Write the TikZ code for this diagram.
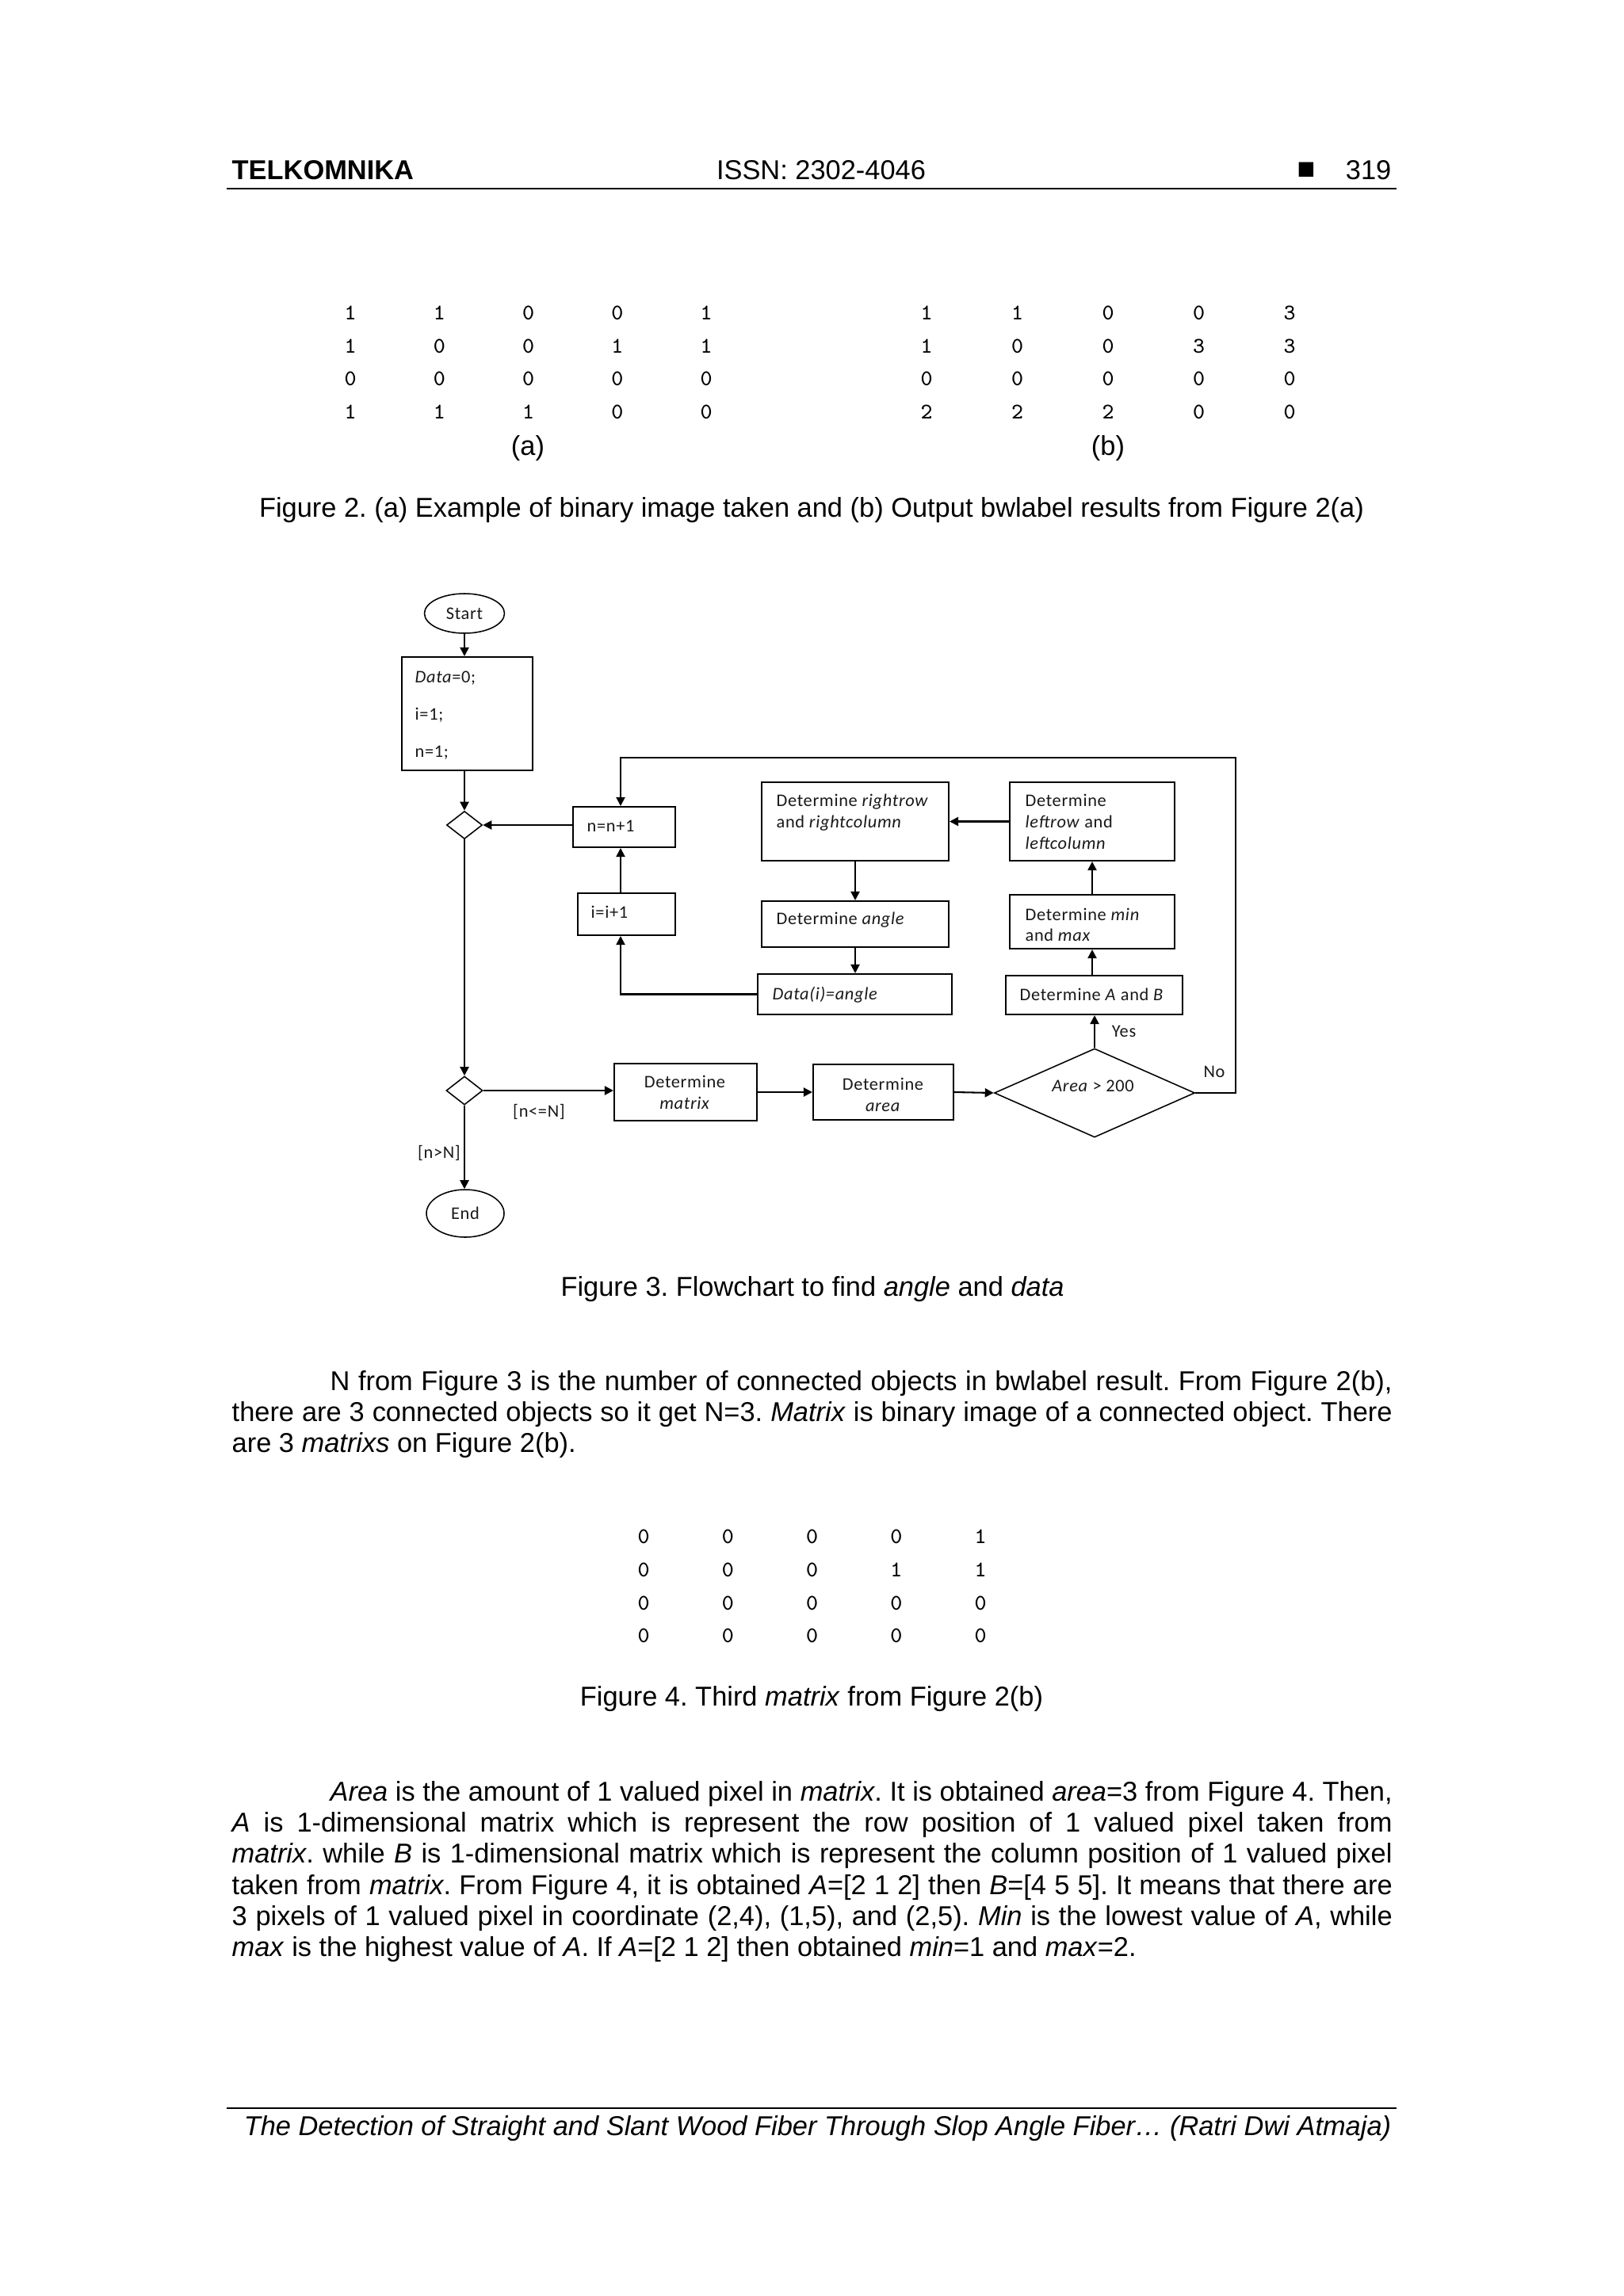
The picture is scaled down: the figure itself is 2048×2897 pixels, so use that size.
\documentclass[tikz,border=0pt]{standalone}
\usepackage{fontspec}
\setmainfont{Liberation Sans}
\newfontfamily\fcf[LetterSpace=3]{Carlito}
\newfontfamily\symf{DejaVu Sans}
\usetikzlibrary{fit,shapes.geometric,arrows.meta}
\newdimen\pxu \pxu=0.29067pt
\newcommand\mydigrow[6]{\foreach \v [count=\c] in {#6} {\node[dig] (#1-#2-\c) at ({#3+#4*(\c-1)},#5) {\v};}}
\frenchspacing
\begin{document}
\begin{tikzpicture}[x=0.29067pt,y=-0.29067pt,
  body/.style={font=\fontsize{10}{11.5}\selectfont, inner sep=0},
  fc/.style={font=\fcf\fontsize{6.5}{7.9}\selectfont, inner sep=0, text=black!90},
  dig/.style={font=\ttfamily\fontsize{8.2}{9}\selectfont, inner sep=0},
  box/.style={draw, line width=0.6pt, inner sep=0},
  dbox/.style={draw, diamond, line width=0.45pt, inner sep=0},
  arr/.style={line width=0.6pt, -{Triangle[length=3.2pt,width=3.2pt]}},
  rule/.style={line width=0.8pt}]
\fill[white] (0,0) rectangle (2048,2897);
\useasboundingbox (0,0) rectangle (2048,2897);

% header
\node[body, font=\bfseries\fontsize{10}{11.5}\selectfont, anchor=base west] (hleft) at (292,226) {TELKOMNIKA};
\node[body, anchor=base] (hmid) at (1036,226) {ISSN: 2302-4046};
\node[inner sep=0, font=\symf\fontsize{7}{8}\selectfont] (hsq) at (1648,214) {■};
\node[body, anchor=base east] (hpage) at (1756,226) {319};
\draw[rule] (286,238) -- (1762,238);

% Figure 2 matrices
\mydigrow{a}{1}{442}{112.25}{395}{1,1,0,0,1}
\mydigrow{a}{2}{442}{112.25}{437}{1,0,0,1,1}
\mydigrow{a}{3}{442}{112.25}{478}{0,0,0,0,0}
\mydigrow{a}{4}{442}{112.25}{520}{1,1,1,0,0}
\mydigrow{b}{1}{1169}{114.5}{395}{1,1,0,0,3}
\mydigrow{b}{2}{1169}{114.5}{437}{1,0,0,3,3}
\mydigrow{b}{3}{1169}{114.5}{478}{0,0,0,0,0}
\mydigrow{b}{4}{1169}{114.5}{520}{2,2,2,0,0}
\node[body, anchor=base] (laba) at (666,574) {(a)};
\node[body, anchor=base] (labb) at (1398,574) {(b)};
\node[body, anchor=base] (cap2) at (1024,652) {Figure 2. (a) Example of binary image taken and (b) Output bwlabel results from Figure 2(a)};

% Flowchart
\node[ellipse, draw, line width=0.45pt, minimum width=101\pxu, minimum height=50\pxu, inner sep=0, fc] (start) at (586,774) {Start};
\node[box, fit={(507,829) (672,972)}] (init) {};
\node[dbox, minimum width=45\pxu, minimum height=35\pxu] (d1) at (586,1041) {};
\node[box, fit={(723,1018) (852,1069)}] (nn) {};
\node[box, fit={(729,1127) (852,1180)}] (ii) {};
\node[box, fit={(961,987) (1197,1086)}] (rr) {};
\node[box, fit={(961,1137) (1197,1195)}] (ang) {};
\node[box, fit={(956,1229) (1201,1280)}] (data) {};
\node[box, fit={(1274,987) (1482,1086)}] (lr) {};
\node[box, fit={(1274,1129) (1482,1197)}] (mm) {};
\node[box, fit={(1269,1231) (1492,1280)}] (ab) {};
\node[dbox, minimum width=46\pxu, minimum height=36\pxu] (d2) at (586,1376) {};
\node[box, fit={(775,1342) (955,1414)}] (mat) {};
\node[box, fit={(1026,1343) (1203,1413)}] (area) {};
\node[dbox, minimum width=253\pxu, minimum height=112\pxu] (dia) at (1381,1379) {};
\node[ellipse, draw, line width=0.45pt, minimum width=98\pxu, minimum height=60\pxu, inner sep=0, fc] (end) at (587,1531) {End};

% box texts
\node[fc, anchor=mid west] (ti1) at (523,852) {\textit{Data}=0;};
\node[fc, anchor=mid west] (ti2) at (523,899) {i=1;};
\node[fc, anchor=mid west] (ti3) at (523,946) {n=1;};
\node[fc, anchor=mid west] (tnn) at (740,1040) {n=n+1};
\node[fc, anchor=mid west] (tii) at (745,1149) {i=i+1};
\node[fc, anchor=mid west] (trr1) at (979,1008) {Determine \textit{rightrow}};
\node[fc, anchor=mid west] (trr2) at (979,1035) {and \textit{rightcolumn}};
\node[fc, anchor=mid west] (tang) at (979,1157) {Determine \textit{angle}};
\node[fc, anchor=mid west] (tdata) at (974,1252) {\textit{Data(i)=angle}};
\node[fc, anchor=mid west] (tlr1) at (1293,1008) {Determine};
\node[fc, anchor=mid west] (tlr2) at (1293,1035) {\textit{leftrow} and};
\node[fc, anchor=mid west] (tlr3) at (1293,1062) {\textit{leftcolumn}};
\node[fc, anchor=mid west] (tmm1) at (1293,1152) {Determine \textit{min}};
\node[fc, anchor=mid west] (tmm2) at (1293,1178) {and \textit{max}};
\node[fc, anchor=mid west] (tab) at (1286,1253) {Determine \textit{A} and \textit{B}};
\node[fc, anchor=mid] (tmat1) at (864,1363) {Determine};
\node[fc, anchor=mid] (tmat2) at (864,1390) {\textit{matrix}};
\node[fc, anchor=mid] (tar1) at (1114,1366) {Determine};
\node[fc, anchor=mid] (tar2) at (1114,1393) {\textit{area}};
\node[fc, anchor=mid] (tdia) at (1379,1368) {\textit{Area} > 200};
\node[fc, anchor=mid] (tyes) at (1418,1299) {Yes};
\node[fc, anchor=mid] (tno) at (1532,1350) {No};
\node[fc, anchor=mid] (tle) at (680,1400) {[n<=N]};
\node[fc, anchor=mid] (tgt) at (554,1452) {[n>N]};

% connectors
\coordinate (colx) at (783,0);
\coordinate (loopR) at (1559,956);
\draw[arr] (start.south) -- (start.south |- init.north);
\draw[arr] (d1.north |- init.south) -- (d1.north);
\draw[arr] (nn.west |- d1.east) -- (d1.east);
\draw[arr] (d1.south) -- (d2.north);
\draw[arr] (ii.north -| colx) -- (nn.south -| colx);
\draw[arr] (data.west) -| (ii.south -| colx);
\draw[arr] (rr.south) -- (ang.north);
\draw[arr] (ang.south) -- (ang.south |- data.north);
\draw[arr] (lr.west) -- (rr.east);
\draw[arr] (mm.north) -- (lr.south);
\draw[arr] (mm.south |- ab.north) -- (mm.south);
\draw[arr] (dia.north) -- (dia.north |- ab.south);
\draw[arr] (dia.east) -| (loopR) -| (nn.north -| colx);
\draw[arr] (d2.east) -- (d2.east -| mat.west);
\draw[arr] (mat.east) -- (mat.east -| area.west);
\draw[arr] (area.east) -- (dia.west);
\draw[arr] (d2.south) -- (d2.south |- end.north);

\node[body, anchor=base] (cap3) at (1025,1635) {Figure 3. Flowchart to find \textit{angle} and \textit{data}};

% paragraph 1
\node[body, anchor=base west] (p11) at (416,1754) {\makebox[1340\pxu][s]{N from Figure 3 is the number of connected objects in bwlabel result. From Figure 2(b),}};
\node[body, anchor=base west] (p12) at (292,1793) {\makebox[1464\pxu][s]{there are 3 connected objects so it get N=3. \textit{Matrix} is binary image of a connected object. There}};
\node[body, anchor=base west] (p13) at (292,1832) {are 3 \textit{matrixs} on Figure 2(b).};

% Figure 4
\mydigrow{c}{1}{812}{106.25}{1939}{0,0,0,0,1}
\mydigrow{c}{2}{812}{106.25}{1981}{0,0,0,1,1}
\mydigrow{c}{3}{812}{106.25}{2023}{0,0,0,0,0}
\mydigrow{c}{4}{812}{106.25}{2064}{0,0,0,0,0}
\node[body, anchor=base] (cap4) at (1024,2152) {Figure 4. Third \textit{matrix} from Figure 2(b)};

% paragraph 2
\node[body, anchor=base west] (p21) at (416,2272) {\makebox[1340\pxu][s]{\textit{Area} is the amount of 1 valued pixel in \textit{matrix}. It is obtained \textit{area}=3 from Figure 4. Then,}};
\node[body, anchor=base west] (p22) at (292,2311) {\makebox[1464\pxu][s]{\textit{A} is 1-dimensional matrix which is represent the row position of 1 valued pixel taken from}};
\node[body, anchor=base west] (p23) at (292,2350) {\makebox[1464\pxu][s]{\textit{matrix}. while \textit{B} is 1-dimensional matrix which is represent the column position of 1 valued pixel}};
\node[body, anchor=base west] (p24) at (292,2390) {\makebox[1464\pxu][s]{taken from \textit{matrix}. From Figure 4, it is obtained \textit{A}=[2 1 2] then \textit{B}=[4 5 5]. It means that there are}};
\node[body, anchor=base west] (p25) at (292,2429) {\makebox[1464\pxu][s]{3 pixels of 1 valued pixel in coordinate (2,4), (1,5), and (2,5). \textit{Min} is the lowest value of \textit{A}, while}};
\node[body, anchor=base west] (p26) at (292,2468) {\textit{max} is the highest value of \textit{A}. If \textit{A}=[2 1 2] then obtained \textit{min}=1 and \textit{max}=2.};

% footer
\draw[rule] (286,2660) -- (1762,2660);
\node[body, anchor=base east, font=\itshape\fontsize{10}{11.5}\selectfont] (foot) at (1756,2694) {The Detection of Straight and Slant Wood Fiber Through Slop Angle Fiber… (Ratri Dwi Atmaja)};
\end{tikzpicture}
\end{document}
